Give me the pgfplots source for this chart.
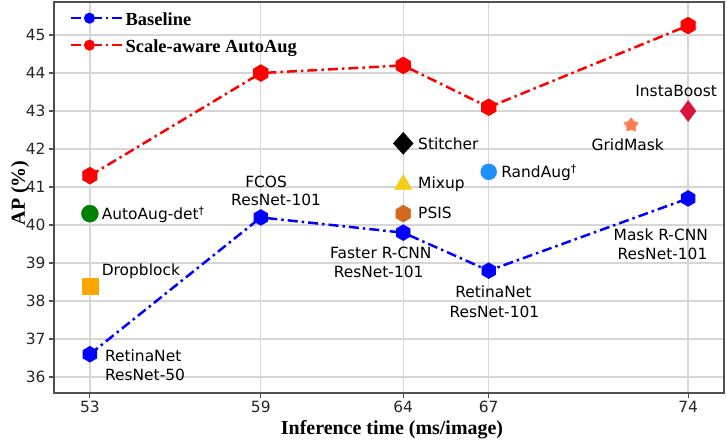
\documentclass[border=0pt]{standalone}
\usepackage{fontspec}
\setmainfont{DejaVu Sans}
\newfontfamily\tnr{Liberation Serif}
\usepackage{pgfplots}
\pgfplotsset{compat=1.18}

\definecolor{gridgray}{RGB}{214,214,214}
\definecolor{framegray}{RGB}{80,80,80}
\definecolor{mgreen}{RGB}{0,128,0}
\definecolor{morange}{RGB}{255,165,0}
\definecolor{mgold}{RGB}{245,205,20}
\definecolor{mchoc}{RGB}{210,105,30}
\definecolor{mdodger}{RGB}{30,144,255}
\definecolor{mcoral}{RGB}{255,127,80}
\definecolor{mcrimson}{RGB}{220,20,60}

% matplotlib-like hexagon and star markers
\pgfdeclareplotmark{hexagon*}{%
  \pgfpathmoveto{\pgfpointpolar{90}{\pgfplotmarksize}}%
  \pgfpathlineto{\pgfpointpolar{150}{\pgfplotmarksize}}%
  \pgfpathlineto{\pgfpointpolar{210}{\pgfplotmarksize}}%
  \pgfpathlineto{\pgfpointpolar{270}{\pgfplotmarksize}}%
  \pgfpathlineto{\pgfpointpolar{330}{\pgfplotmarksize}}%
  \pgfpathlineto{\pgfpointpolar{30}{\pgfplotmarksize}}%
  \pgfpathclose
  \pgfusepathqfillstroke}
\pgfdeclareplotmark{fstar*}{%
  \pgfpathmoveto{\pgfpointpolar{90}{\pgfplotmarksize}}%
  \pgfpathlineto{\pgfpointpolar{126}{0.62\pgfplotmarksize}}%
  \pgfpathlineto{\pgfpointpolar{162}{\pgfplotmarksize}}%
  \pgfpathlineto{\pgfpointpolar{198}{0.62\pgfplotmarksize}}%
  \pgfpathlineto{\pgfpointpolar{234}{\pgfplotmarksize}}%
  \pgfpathlineto{\pgfpointpolar{270}{0.62\pgfplotmarksize}}%
  \pgfpathlineto{\pgfpointpolar{306}{\pgfplotmarksize}}%
  \pgfpathlineto{\pgfpointpolar{342}{0.62\pgfplotmarksize}}%
  \pgfpathlineto{\pgfpointpolar{18}{\pgfplotmarksize}}%
  \pgfpathlineto{\pgfpointpolar{54}{0.62\pgfplotmarksize}}%
  \pgfpathclose
  \pgfusepathqfillstroke}

\tikzset{
  annot/.style={font=\fontsize{15.5}{18}\selectfont, inner sep=0pt},
  dashdot/.style={dash pattern=on 10bp off 4bp on 2.5bp off 4bp},
}

\begin{document}
\begin{tikzpicture}
\begin{axis}[
  scale only axis,
  width=670bp, height=391bp,
  xmin=51.74, xmax=75.26,
  ymin=35.58, ymax=45.87,
  xtick={53,59,64,67,74},
  ytick={36,37,...,45},
  grid=major,
  major grid style={gridgray, line width=1.3bp},
  axis line style={framegray, line width=1.5bp},
  tick align=outside,
  major tick length=5bp,
  tick style={framegray, line width=1.2bp},
  xtick pos=bottom, ytick pos=left,
  tick label style={font=\fontsize{15.5}{18}\selectfont, text=black!85},
  /pgf/number format/assume math mode=true,
  xlabel={Inference time (ms/image)},
  ylabel={AP (\%)},
  label style={font=\tnr\bfseries\fontsize{20}{22}\selectfont},
  xlabel style={at={(axis description cs:0.5045,-0.0946)}, anchor=center},
  ylabel style={at={(axis description cs:-0.0507,0.5115)}, anchor=center},
  clip=false,
  legend style={at={(axis description cs:0,1)}, anchor=north west,
    xshift=16bp, yshift=-10bp, draw=none, fill=none, inner sep=0pt,
    row sep=10bp, column sep=0pt, cells={anchor=west},
    nodes={inner sep=0pt, text height=13bp, text depth=4bp},
    font=\tnr\bfseries\fontsize{18.5}{20}\selectfont},
  legend image code/.code={%
    \draw[mark repeat=2,mark phase=2] plot coordinates {(0bp,2.5bp)(18bp,2.5bp)(36bp,2.5bp)};
    \path (0bp,2.5bp) -- (53bp,2.5bp);},
]
% Baseline
\addplot[forget plot, blue, line width=2.5bp, dashdot, mark=hexagon*, mark size=7.8bp,
  mark options={solid, fill=blue, line width=0.8bp}]
  coordinates {(53,36.6) (59,40.2) (64,39.8) (67,38.8) (74,40.7)};
% Scale-aware AutoAug
\addplot[forget plot, red, line width=2.5bp, dashdot, mark=hexagon*, mark size=8.3bp,
  mark options={solid, fill=red, line width=0.8bp}]
  coordinates {(53,41.3) (59,44.0) (64,44.2) (67,43.1) (74,45.25)};
% other methods
\addplot[forget plot, only marks, mark=*, mark size=8.5bp, mgreen, fill=mgreen] coordinates {(53,40.3)};
\addplot[forget plot, only marks, mark=square*, mark size=8bp, morange, mark options={fill=morange, rounded corners=1.5bp}] coordinates {(53,38.4)};
\addplot[forget plot, only marks, mark=diamond*, mark size=11bp, black, mark options={fill=black, xscale=1.2}] coordinates {(64,42.15)};
\addplot[forget plot, only marks, mark=triangle*, mark size=10bp, mgold, mark options={fill=mgold}] coordinates {(64,41.07)};
\addplot[forget plot, only marks, mark=hexagon*, mark size=8.5bp, mchoc, mark options={fill=mchoc}] coordinates {(64,40.3)};
\addplot[forget plot, only marks, mark=*, mark size=8bp, mdodger, mark options={fill=mdodger}] coordinates {(67,41.4)};
\addplot[forget plot, only marks, mark=fstar*, mark size=7.5bp, mcoral, mark options={fill=mcoral, rounded corners=1.5bp}] coordinates {(72,42.63)};
\addplot[forget plot, only marks, mark=diamond*, mark size=10.5bp, mcrimson, mark options={fill=mcrimson}] coordinates {(74,43.0)};

\addlegendimage{blue, line width=2.5bp, dashdot, mark=*, mark size=4.2bp, mark options={solid, fill=blue}}
\addlegendentry{Baseline}
\addlegendimage{red, line width=2.5bp, dashdot, mark=*, mark size=4.2bp, mark options={solid, fill=red}}
\addlegendentry{Scale-aware AutoAug}

% annotations
\node[annot, anchor=base west, xshift=11.7bp, yshift=-6bp] at (axis cs:53,40.3) {AutoAug-det\textsuperscript{†}};
\node[annot, anchor=base west, xshift=11.7bp, yshift=10bp] at (axis cs:53,38.4) {Dropblock};
\node[annot, anchor=base west, xshift=15bp, yshift=-7.6bp] at (axis cs:53,36.6) {RetinaNet};
\node[annot, anchor=base west, xshift=15bp, yshift=-26.6bp] at (axis cs:53,36.6) {ResNet-50};
\node[annot, anchor=base, xshift=5.3bp, yshift=30bp] at (axis cs:59,40.2) {FCOS};
\node[annot, anchor=base, xshift=15.3bp, yshift=11.6bp] at (axis cs:59,40.2) {ResNet-101};
\node[annot, anchor=base, xshift=-22.5bp, yshift=-25.7bp] at (axis cs:64,39.8) {Faster R-CNN};
\node[annot, anchor=base, xshift=-24.6bp, yshift=-45bp] at (axis cs:64,39.8) {ResNet-101};
\node[annot, anchor=base, xshift=4.7bp, yshift=-27.3bp] at (axis cs:67,38.8) {RetinaNet};
\node[annot, anchor=base, xshift=5.7bp, yshift=-46.6bp] at (axis cs:67,38.8) {ResNet-101};
\node[annot, anchor=base, xshift=-27.3bp, yshift=-42.4bp] at (axis cs:74,40.7) {Mask R-CNN};
\node[annot, anchor=base, xshift=-25.6bp, yshift=-61bp] at (axis cs:74,40.7) {ResNet-101};
\node[annot, anchor=base west, xshift=14.8bp, yshift=-5.7bp] at (axis cs:64,42.15) {Stitcher};
\node[annot, anchor=base west, xshift=14.8bp, yshift=-4bp] at (axis cs:64,41.07) {Mixup};
\node[annot, anchor=base west, xshift=14.8bp, yshift=-5bp] at (axis cs:64,40.3) {PSIS};
\node[annot, anchor=base west, xshift=12.4bp, yshift=-5.6bp] at (axis cs:67,41.4) {RandAug\textsuperscript{†}};
\node[annot, anchor=base, xshift=-3.4bp, yshift=-25.7bp] at (axis cs:72,42.63) {GridMask};
\node[annot, anchor=base, xshift=-12bp, yshift=14.3bp] at (axis cs:74,43.0) {InstaBoost};
\end{axis}
\path (current axis.south west) ++(-54bp,-50bp) rectangle ++(727bp,443bp);
\end{tikzpicture}
\end{document}
